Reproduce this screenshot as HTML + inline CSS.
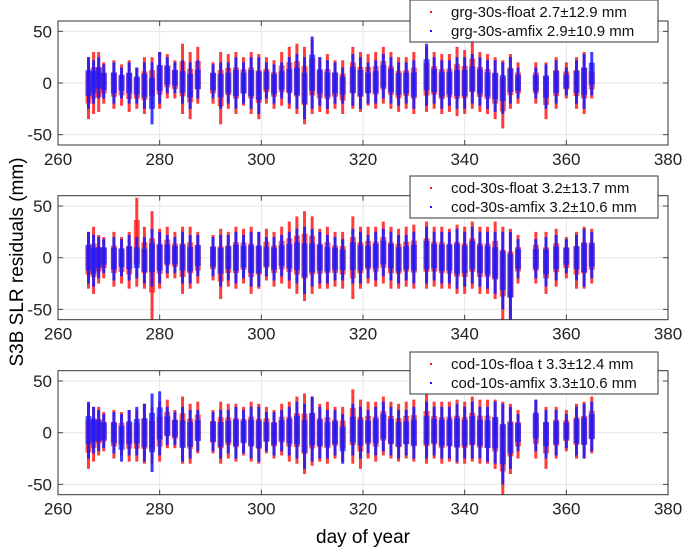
<!DOCTYPE html>
<html><head><meta charset="utf-8"><style>
html,body{margin:0;padding:0;background:#fff;}
svg{display:block;font-family:"Liberation Sans",sans-serif;}
</style></head><body>
<svg id="chart" width="685" height="548" viewBox="0 0 685 548" xmlns="http://www.w3.org/2000/svg">
<text transform="translate(23,262) rotate(-90)" text-anchor="middle" font-size="19">S3B SLR residuals (mm)</text>
<text x="363" y="543" text-anchor="middle" font-size="19">day of year</text>
</svg>
<script>
const xTicks = [260,280,300,320,340,360,380];
const yTicks = [-50,0,50];
const days = [266,267,268,269,271,272.5,274,275.5,277,278.5,280,281.5,283,284.5,286,287.5,290.5,292,293.5,295,296.5,298,299.5,301,302.5,304,305.5,307,308.5,310,311.5,313,314.5,316,318,319.5,321,322.5,324,325.5,327,328.5,330,332.5,334,335.5,337,338.5,340,341.5,343,344.5,346,347.5,349,350.5,354,356,358,360,362,363.5,365];

const p1Labels = ["grg-30s-float  2.7±12.9 mm","grg-30s-amfix 2.9±10.9 mm"];
const p1FloatMax = [25,30,30,20,22,18,22,15,25,25,30,28,22,38,30,35,20,30,28,30,25,30,28,25,22,30,35,38,35,42,25,28,22,22,35,30,28,30,35,30,25,25,30,35,30,28,28,35,32,40,30,28,25,22,28,20,20,20,25,20,25,30,20];
const p1FloatMin = [-35,-30,-28,-20,-25,-22,-28,-25,-30,-25,-25,-15,-15,-30,-35,-20,-20,-40,-25,-30,-22,-30,-35,-20,-25,-22,-25,-30,-40,-30,-28,-30,-25,-30,-25,-28,-22,-25,-20,-25,-28,-25,-30,-28,-25,-30,-28,-32,-30,-25,-28,-30,-35,-44,-25,-20,-20,-35,-25,-15,-25,-30,-15];
const p1FixMax = [25,22,25,18,20,15,20,15,20,20,30,25,20,22,20,22,18,20,20,25,20,25,25,20,18,20,25,28,25,45,25,22,20,15,28,25,20,22,28,25,20,20,22,38,25,22,22,25,25,28,25,22,22,20,25,15,15,18,22,15,22,28,30];
const p1FixMin = [-25,-20,-15,-15,-20,-15,-20,-20,-25,-40,-20,-10,-10,-20,-25,-15,-15,-25,-20,-25,-20,-25,-30,-15,-20,-15,-20,-25,-35,-25,-22,-25,-20,-20,-22,-25,-20,-20,-15,-20,-22,-20,-25,-22,-20,-25,-22,-25,-25,-20,-22,-25,-28,-30,-20,-15,-15,-25,-20,-12,-20,-25,-12];

const p2Labels = ["cod-30s-float  3.2±13.7 mm","cod-30s-amfix 3.2±10.6 mm"];
const p2FloatMax = [25,30,22,20,25,20,25,58,30,45,28,30,25,30,30,25,22,28,25,30,28,30,25,28,25,30,35,40,45,40,28,30,25,25,40,30,30,30,35,30,28,30,32,35,30,30,28,32,30,35,30,30,35,30,28,22,25,25,28,20,25,30,28];
const p2FloatMin = [-30,-35,-25,-20,-28,-25,-30,-28,-30,-60,-30,-20,-20,-35,-30,-25,-22,-40,-28,-30,-25,-35,-30,-22,-28,-25,-30,-35,-42,-35,-30,-30,-28,-30,-40,-30,-25,-28,-25,-30,-30,-28,-30,-30,-28,-30,-30,-35,-35,-30,-35,-35,-40,-60,-60,-25,-25,-35,-28,-20,-30,-30,-25];
const p2FixMax = [25,22,20,18,20,18,22,20,20,28,25,22,20,25,22,22,20,22,22,25,22,25,25,20,20,22,25,28,30,28,25,22,20,18,28,25,22,25,28,25,22,22,25,30,25,25,25,28,25,30,25,25,25,25,25,18,18,20,22,18,22,28,25];
const p2FixMin = [-25,-28,-20,-15,-22,-18,-22,-20,-25,-28,-25,-15,-15,-25,-25,-18,-18,-28,-22,-25,-20,-28,-28,-18,-22,-18,-22,-25,-35,-28,-25,-25,-22,-22,-25,-25,-20,-22,-18,-22,-25,-22,-25,-25,-22,-25,-25,-30,-28,-25,-28,-30,-35,-50,-60,-20,-20,-28,-22,-15,-22,-28,-20];

const p3Labels = ["cod-10s-floa t 3.3±12.4 mm","cod-10s-amfix 3.3±10.6 mm"];
const p3FloatMax = [28,25,25,20,22,20,22,22,28,25,30,32,22,35,28,30,22,30,28,28,25,30,28,25,22,28,30,35,38,35,28,30,25,25,42,32,30,30,35,30,28,30,32,38,30,30,30,32,30,35,32,32,32,30,28,22,32,25,25,22,28,30,35];
const p3FloatMin = [-35,-28,-22,-18,-25,-22,-28,-28,-30,-30,-28,-15,-15,-30,-30,-20,-20,-30,-25,-28,-22,-28,-30,-20,-25,-22,-28,-30,-40,-32,-28,-30,-25,-28,-30,-35,-25,-28,-22,-25,-28,-25,-28,-30,-25,-30,-28,-30,-30,-28,-30,-30,-35,-60,-40,-25,-25,-35,-25,-18,-25,-25,-20];
const p3FixMax = [30,25,22,18,20,18,22,25,28,38,40,25,20,25,22,22,20,22,22,25,22,25,25,20,20,22,25,30,28,35,25,22,22,18,28,25,22,25,30,25,22,22,25,30,25,25,25,28,25,30,25,25,30,28,25,18,32,22,22,18,25,28,30];
const p3FixMin = [-25,-20,-18,-15,-20,-28,-22,-22,-28,-38,-22,-12,-12,-28,-25,-18,-18,-25,-20,-25,-20,-25,-28,-18,-22,-18,-22,-25,-35,-28,-25,-25,-22,-30,-22,-25,-20,-22,-18,-22,-25,-22,-25,-25,-22,-25,-25,-28,-25,-25,-25,-28,-30,-50,-35,-18,-18,-25,-22,-15,-22,-25,-18];

const panels = [
  {top:21, labels:p1Labels, fMax:p1FloatMax, fMin:p1FloatMin, aMax:p1FixMax, aMin:p1FixMin, legTop:0},
  {top:195.7, labels:p2Labels, fMax:p2FloatMax, fMin:p2FloatMin, aMax:p2FixMax, aMin:p2FixMin, legTop:176},
  {top:370.7, labels:p3Labels, fMax:p3FloatMax, fMin:p3FloatMin, aMax:p3FixMax, aMin:p3FixMin, legTop:352}
];
const NS = "http://www.w3.org/2000/svg";
const svg = document.getElementById('chart');
const L = 58, R = 668, H = 124;
function mk(tag, attrs, parent){const e=document.createElementNS(NS,tag);for(const k in attrs)e.setAttribute(k,attrs[k]);(parent||svg).appendChild(e);return e;}
function xs(v){return L + (v-260)/(380-260)*(R-L);}

panels.forEach((p, pi) => {
  const ys = v => p.top + (60 - v)/120*H;
  const g = mk('g', {});
  
  
  mk('rect', {x:L, y:p.top, width:R-L, height:H, fill:'#fff'}, g);
  xTicks.forEach(t => {
    const gl = mk('line', {x1:xs(t), x2:xs(t), y1:p.top, y2:p.top+H, stroke:'#e6e6e6', 'stroke-width':1}, g);
    
    
    const tl = mk('text', {x:xs(t), y:p.top+H+20, 'text-anchor':'middle', 'font-size':17, fill:'#222'}, g);
    tl.textContent = t;
    
    
    mk('line', {x1:xs(t), x2:xs(t), y1:p.top+H, y2:p.top+H-5, stroke:'#444'}, g);
    mk('line', {x1:xs(t), x2:xs(t), y1:p.top, y2:p.top+5, stroke:'#444'}, g);
  });
  yTicks.forEach(t => {
    const gl = mk('line', {x1:L, x2:R, y1:ys(t), y2:ys(t), stroke:'#e6e6e6', 'stroke-width':1}, g);
    
    
    const tl = mk('text', {x:L-6, y:ys(t)+6, 'text-anchor':'end', 'font-size':17, fill:'#222'}, g);
    tl.textContent = t;
    
    
    mk('line', {x1:L, x2:L+5, y1:ys(t), y2:ys(t), stroke:'#444'}, g);
    mk('line', {x1:R, x2:R-5, y1:ys(t), y2:ys(t), stroke:'#444'}, g);
  });
  [[p.fMax,p.fMin,'#ff1a1a','float'],[p.aMax,p.aMin,'#1a1aff','amfix']].forEach(([mx,mn,col,nm]) => {
    days.forEach((d, i) => {
      const y1 = ys(Math.min(60, mx[i])), y2 = ys(Math.max(-60, mn[i]));
      const r = mk('rect', {x:xs(d)-1.5, y:y1, width:3, height:y2-y1, fill:col, opacity:0.85}, g);
      
      
      const r2 = mk('rect', {x:xs(d)-3, y:y1+(y2-y1)*0.25, width:6, height:(y2-y1)*0.5, fill:col, opacity:0.7}, g);
      
      
    });
  });
  const box = mk('rect', {x:L, y:p.top, width:R-L, height:H, fill:'none', stroke:'#333', 'stroke-width':1}, g);
  
  
  const lg = mk('g', {}, g);
  
  
  mk('rect', {x:410, y:p.legTop, width:248, height:42, fill:'#fff', stroke:'#333', 'stroke-width':1}, lg);
  p.labels.forEach((lab, li) => {
    const cy = p.legTop + 12 + li*19;
    mk('rect', {x:430, y:cy-1, width:2, height:2, fill: li===0?'#ff1a1a':'#1a1aff'}, lg);
    const t = mk('text', {x:451, y:cy+5, 'font-size':15, fill:'#111'}, lg);
    t.textContent = lab;
    
    
  });
});
</script>
</body></html>
